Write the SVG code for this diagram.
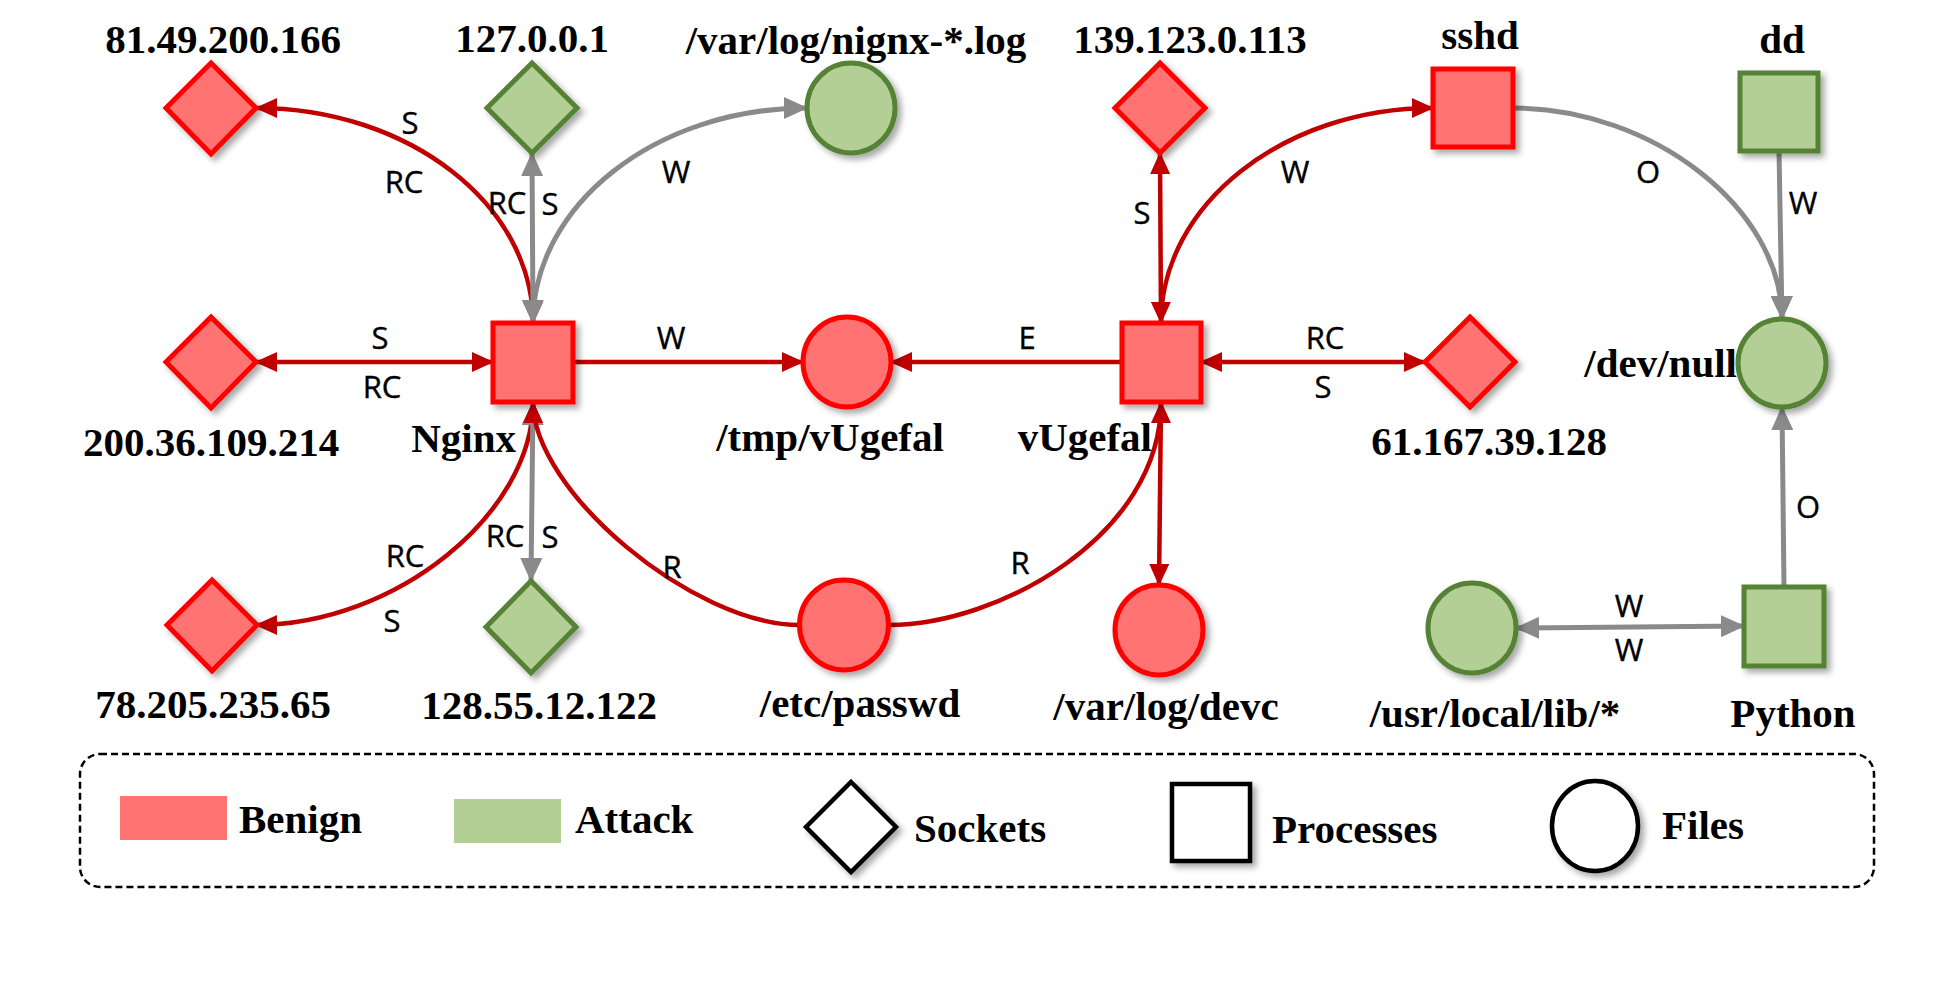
<svg xmlns="http://www.w3.org/2000/svg" width="1952" height="996" viewBox="0 0 1952 996">
<defs>
<style>
.b{fill:#ff7373;stroke:#ff0000;stroke-width:5}
.a{fill:#b3cf95;stroke:#548235;stroke-width:5}
.lg{fill:#ffffff;stroke:#000000;stroke-width:4.5}
.er{fill:none;stroke:#c00000;stroke-width:4.5}
.eg{fill:none;stroke:#8a8a8a;stroke-width:5}
.nl{font-family:"Liberation Serif","Times New Roman",serif;font-weight:bold;font-size:41px;fill:#000}
.el{font-family:"Open Sans","Noto Sans",sans-serif;font-size:31px;fill:#000;text-anchor:middle;stroke:#000;stroke-width:0.4}
.m{text-anchor:middle}
</style>
<filter id="sh" x="-30%" y="-30%" width="160%" height="160%">
<feDropShadow dx="4" dy="4" stdDeviation="3" flood-color="#000" flood-opacity="0.35"/>
</filter>
<marker id="ar" viewBox="0 0 22 20" refX="21" refY="10" markerWidth="22" markerHeight="20" markerUnits="userSpaceOnUse" orient="auto-start-reverse"><path d="M0,0 L22,10 L0,20 z" fill="#c00000"/></marker>
<marker id="ag" viewBox="0 0 24 22" refX="23" refY="11" markerWidth="24" markerHeight="22" markerUnits="userSpaceOnUse" orient="auto-start-reverse"><path d="M0,0 L24,11 L0,22 z" fill="#8a8a8a"/></marker>
</defs>
<rect width="1952" height="996" fill="#ffffff"/>

<g id="edges">
<path class="er" d="M533,323 C533,205 409,108 256,108" marker-start="url(#ar)" marker-end="url(#ar)"/>
<path class="eg" d="M533,323 L532,153" marker-start="url(#ag)" marker-end="url(#ag)"/>
<path class="eg" d="M533,323 C533,205 656,108 807,108" marker-end="url(#ag)"/>
<path class="er" d="M256,362 L493,362" marker-start="url(#ar)" marker-end="url(#ar)"/>
<path class="er" d="M573,362 L803,362" marker-end="url(#ar)"/>
<path class="er" d="M1122,362 L891,362" marker-end="url(#ar)"/>
<path class="er" d="M1161,323 L1160,153" marker-start="url(#ar)" marker-end="url(#ar)"/>
<path class="er" d="M1161,323 C1161,205 1283,108 1433,108" marker-end="url(#ar)"/>
<path class="er" d="M1201,362 L1425,362" marker-start="url(#ar)" marker-end="url(#ar)"/>
<path class="eg" d="M1513,108 C1653,108 1782,209 1782,319" marker-end="url(#ag)"/>
<path class="eg" d="M1779,151 L1782,319" marker-end="url(#ag)"/>
<path class="eg" d="M1784,587 L1782,407" marker-end="url(#ag)"/>
<path class="eg" d="M1516,628 L1744,626" marker-start="url(#ag)" marker-end="url(#ag)"/>
<path class="er" d="M533,402 C533,514 395,625 256,625" marker-start="url(#ar)" marker-end="url(#ar)"/>
<path class="eg" d="M533,402 L531,581" marker-start="url(#ag)" marker-end="url(#ag)"/>
<path class="er" d="M800,625 C693,625 533,491 533,402" marker-end="url(#ar)"/>
<path class="er" d="M889,625 C998,625 1161,536 1161,402" marker-end="url(#ar)"/>
<path class="er" d="M1161,402 L1159,585" marker-end="url(#ar)"/>
<text class="el" x="410" y="134">S</text>
<text class="el" x="404" y="193">RC</text>
<text class="el" x="507" y="214">RC</text>
<text class="el" x="550" y="215">S</text>
<text class="el" x="676" y="183">W</text>
<text class="el" x="380" y="349">S</text>
<text class="el" x="382" y="398">RC</text>
<text class="el" x="671" y="349">W</text>
<text class="el" x="1027" y="349">E</text>
<text class="el" x="1142" y="224">S</text>
<text class="el" x="1295" y="183">W</text>
<text class="el" x="1325" y="349">RC</text>
<text class="el" x="1323" y="398">S</text>
<text class="el" x="1648" y="183">O</text>
<text class="el" x="1803" y="214">W</text>
<text class="el" x="1808" y="518">O</text>
<text class="el" x="1629" y="617">W</text>
<text class="el" x="1629" y="661">W</text>
<text class="el" x="405" y="567">RC</text>
<text class="el" x="392" y="632">S</text>
<text class="el" x="505" y="547">RC</text>
<text class="el" x="550" y="548">S</text>
<text class="el" x="672" y="578">R</text>
<text class="el" x="1020" y="574">R</text>
</g>

<g id="n-81-49-200-166">
<path class="b" filter="url(#sh)" d="M211,63 L256,108 L211,154 L166,108 z"/>
<text class="nl m" x="223" y="53">81.49.200.166</text>
</g>
<g id="n-127-0-0-1">
<path class="a" filter="url(#sh)" d="M532,63 L577,108 L532,153 L487,108 z"/>
<text class="nl m" x="532" y="52">127.0.0.1</text>
</g>
<g id="n-var-log-nignx">
<ellipse class="a" filter="url(#sh)" cx="851" cy="108" rx="44" ry="45"/>
<text class="nl m" x="856" y="54">/var/log/nignx-*.log</text>
</g>
<g id="n-139-123-0-113">
<path class="b" filter="url(#sh)" d="M1160,63 L1205,108 L1160,153 L1115,108 z"/>
<text class="nl m" x="1190" y="53">139.123.0.113</text>
</g>
<g id="n-sshd">
<rect class="b" filter="url(#sh)" x="1433" y="69" width="80" height="78"/>
<text class="nl m" x="1480" y="49">sshd</text>
</g>
<g id="n-dd">
<rect class="a" filter="url(#sh)" x="1740" y="73" width="78" height="78"/>
<text class="nl m" x="1782" y="53">dd</text>
</g>
<g id="n-200-36-109-214">
<path class="b" filter="url(#sh)" d="M211,317 L256,362 L211,408 L166,362 z"/>
<text class="nl m" x="211" y="456">200.36.109.214</text>
</g>
<g id="n-nginx">
<rect class="b" filter="url(#sh)" x="493" y="323" width="80" height="79"/>
<text class="nl" x="516" y="452" text-anchor="end">Nginx</text>
</g>
<g id="n-tmp-vugefal">
<ellipse class="b" filter="url(#sh)" cx="847" cy="362" rx="44" ry="45"/>
<text class="nl m" x="830" y="451">/tmp/vUgefal</text>
</g>
<g id="n-vugefal">
<rect class="b" filter="url(#sh)" x="1122" y="323" width="79" height="79"/>
<text class="nl" x="1152" y="451" text-anchor="end">vUgefal</text>
</g>
<g id="n-61-167-39-128">
<path class="b" filter="url(#sh)" d="M1470,317 L1515,362 L1470,407 L1425,362 z"/>
<text class="nl m" x="1489" y="455">61.167.39.128</text>
</g>
<g id="n-dev-null">
<ellipse class="a" filter="url(#sh)" cx="1782" cy="363" rx="44" ry="44"/>
<text class="nl" x="1737" y="377" text-anchor="end">/dev/null</text>
</g>
<g id="n-78-205-235-65">
<path class="b" filter="url(#sh)" d="M212,580 L257,625 L212,671 L167,625 z"/>
<text class="nl m" x="213" y="718">78.205.235.65</text>
</g>
<g id="n-128-55-12-122">
<path class="a" filter="url(#sh)" d="M531,581 L576,627 L531,673 L486,627 z"/>
<text class="nl m" x="539" y="719">128.55.12.122</text>
</g>
<g id="n-etc-passwd">
<ellipse class="b" filter="url(#sh)" cx="844" cy="625" rx="44.5" ry="45"/>
<text class="nl m" x="860" y="717">/etc/passwd</text>
</g>
<g id="n-var-log-devc">
<ellipse class="b" filter="url(#sh)" cx="1159" cy="630" rx="44" ry="45"/>
<text class="nl m" x="1166" y="720">/var/log/devc</text>
</g>
<g id="n-usr-local-lib">
<ellipse class="a" filter="url(#sh)" cx="1472" cy="628" rx="44" ry="45"/>
<text class="nl m" x="1495" y="727">/usr/local/lib/*</text>
</g>
<g id="n-python">
<rect class="a" filter="url(#sh)" x="1744" y="587" width="80" height="79"/>
<text class="nl m" x="1793" y="727">Python</text>
</g>

<g id="legend">
<rect x="80" y="754" width="1794" height="133" rx="20" ry="20" fill="none" stroke="#000" stroke-width="2.5" stroke-dasharray="7 4"/>
<rect x="120" y="796" width="107" height="44" fill="#ff7373"/>
<text class="nl" x="239" y="833">Benign</text>
<rect x="454" y="799" width="107" height="44" fill="#b3cf95"/>
<text class="nl" x="575" y="833">Attack</text>
<path class="lg" filter="url(#sh)" d="M851,782 L896,827 L851,872 L806,827 z"/>
<text class="nl" x="914" y="842">Sockets</text>
<rect class="lg" filter="url(#sh)" x="1172" y="784" width="78" height="77"/>
<text class="nl" x="1272" y="843">Processes</text>
<ellipse class="lg" filter="url(#sh)" cx="1595" cy="826" rx="43" ry="45"/>
<text class="nl" x="1662" y="839">Files</text>
</g>
</svg>
